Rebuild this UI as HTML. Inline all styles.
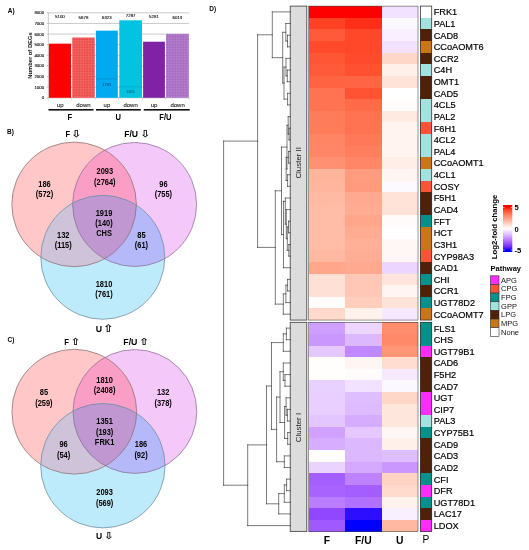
<!DOCTYPE html>
<html lang="en"><head><meta charset="utf-8"><title>Figure</title>
<style>
html,body{margin:0;padding:0;background:#fff;}
body{width:529px;height:550px;overflow:hidden;font-family:'Liberation Sans', sans-serif;}
svg{display:block;}
svg text{font-family:'Liberation Sans', sans-serif;}
.dj{font-family:'DejaVu Sans', sans-serif;font-weight:normal;}
</style></head><body>
<svg width="529" height="550" viewBox="0 0 529 550">
<rect x="0" y="0" width="529" height="550" fill="#ffffff"/>
<defs>
<pattern id="hatR" width="1.6" height="1.6" patternUnits="userSpaceOnUse"><rect width="1.6" height="1.6" fill="#ee4040"/><path d="M0 0.3H1.6M0.3 0V1.6" stroke="#fff" stroke-width="0.4" opacity="0.32"/></pattern>
<pattern id="hatC" width="1.6" height="1.6" patternUnits="userSpaceOnUse"><rect width="1.6" height="1.6" fill="#00c8e4"/><path d="M0 0.3H1.6M0.3 0V1.6" stroke="#0aa0c0" stroke-width="0.4" opacity="0.3"/></pattern>
<pattern id="hatP" width="1.6" height="1.6" patternUnits="userSpaceOnUse"><rect width="1.6" height="1.6" fill="#a262bf"/><path d="M0 0.3H1.6M0.3 0V1.6" stroke="#fff" stroke-width="0.4" opacity="0.3"/></pattern>
<linearGradient id="lg" x1="0" y1="0" x2="0" y2="1">
<stop offset="0.00%" stop-color="#ff0000"/>
<stop offset="2.13%" stop-color="#ff0000"/>
<stop offset="4.26%" stop-color="#ff0000"/>
<stop offset="6.38%" stop-color="#ff1d0b"/>
<stop offset="8.51%" stop-color="#ff341b"/>
<stop offset="10.64%" stop-color="#ff4527"/>
<stop offset="12.77%" stop-color="#ff5333"/>
<stop offset="14.89%" stop-color="#ff5f3e"/>
<stop offset="17.02%" stop-color="#ff6b49"/>
<stop offset="19.15%" stop-color="#ff7654"/>
<stop offset="21.28%" stop-color="#ff805f"/>
<stop offset="23.40%" stop-color="#ff8a6a"/>
<stop offset="25.53%" stop-color="#ff9475"/>
<stop offset="27.66%" stop-color="#ff9d81"/>
<stop offset="29.79%" stop-color="#ffa78c"/>
<stop offset="31.91%" stop-color="#ffb097"/>
<stop offset="34.04%" stop-color="#ffbaa3"/>
<stop offset="36.17%" stop-color="#ffc3af"/>
<stop offset="38.30%" stop-color="#ffccba"/>
<stop offset="40.43%" stop-color="#ffd5c6"/>
<stop offset="42.55%" stop-color="#ffded2"/>
<stop offset="44.68%" stop-color="#ffe7de"/>
<stop offset="46.81%" stop-color="#fff0ea"/>
<stop offset="48.94%" stop-color="#fff9f6"/>
<stop offset="51.06%" stop-color="#fdfbff"/>
<stop offset="53.19%" stop-color="#f8f0ff"/>
<stop offset="55.32%" stop-color="#f3e4ff"/>
<stop offset="57.45%" stop-color="#edd9ff"/>
<stop offset="59.57%" stop-color="#e8cfff"/>
<stop offset="61.70%" stop-color="#e2c3ff"/>
<stop offset="63.83%" stop-color="#dcb7ff"/>
<stop offset="65.96%" stop-color="#d5abff"/>
<stop offset="68.09%" stop-color="#ce9fff"/>
<stop offset="70.21%" stop-color="#c892ff"/>
<stop offset="72.34%" stop-color="#c086ff"/>
<stop offset="74.47%" stop-color="#b97aff"/>
<stop offset="76.60%" stop-color="#b06eff"/>
<stop offset="78.72%" stop-color="#a762ff"/>
<stop offset="80.85%" stop-color="#9e55ff"/>
<stop offset="82.98%" stop-color="#9449ff"/>
<stop offset="85.11%" stop-color="#883dff"/>
<stop offset="87.23%" stop-color="#7c31ff"/>
<stop offset="89.36%" stop-color="#6b26ff"/>
<stop offset="91.49%" stop-color="#561aff"/>
<stop offset="93.62%" stop-color="#2b0dff"/>
<stop offset="95.74%" stop-color="#0000ff"/>
<stop offset="97.87%" stop-color="#0000ff"/>
<stop offset="100.00%" stop-color="#0000ff"/>
</linearGradient>
<clipPath id="bF"><circle cx="74.1" cy="204.4" r="62.3"/></clipPath>
<clipPath id="bFU"><circle cx="134.6" cy="204.5" r="62.0"/></clipPath>
<clipPath id="bU"><circle cx="102.8" cy="257.3" r="62.0"/></clipPath>
<clipPath id="cF"><circle cx="74.3" cy="411.7" r="62.4"/></clipPath>
<clipPath id="cFU"><circle cx="134.9" cy="411.5" r="61.9"/></clipPath>
<clipPath id="cU"><circle cx="102.9" cy="465.7" r="62.2"/></clipPath>
</defs>
<g id="panelA">
<line x1="46.8" y1="97.80" x2="189.2" y2="97.80" stroke="#b4b4b4" stroke-width="0.7"/>
<text x="44.20" y="99.35" font-size="4.4" font-weight="normal" text-anchor="end" fill="#111" stroke="#111" stroke-width="0.12">0</text>
<line x1="46.8" y1="87.18" x2="189.2" y2="87.18" stroke="#b4b4b4" stroke-width="0.7"/>
<text x="44.20" y="88.73" font-size="4.4" font-weight="normal" text-anchor="end" fill="#111" stroke="#111" stroke-width="0.12">1000</text>
<line x1="46.8" y1="76.56" x2="189.2" y2="76.56" stroke="#b4b4b4" stroke-width="0.7"/>
<text x="44.20" y="78.11" font-size="4.4" font-weight="normal" text-anchor="end" fill="#111" stroke="#111" stroke-width="0.12">2000</text>
<line x1="46.8" y1="65.94" x2="189.2" y2="65.94" stroke="#b4b4b4" stroke-width="0.7"/>
<text x="44.20" y="67.49" font-size="4.4" font-weight="normal" text-anchor="end" fill="#111" stroke="#111" stroke-width="0.12">3000</text>
<line x1="46.8" y1="55.32" x2="189.2" y2="55.32" stroke="#b4b4b4" stroke-width="0.7"/>
<text x="44.20" y="56.87" font-size="4.4" font-weight="normal" text-anchor="end" fill="#111" stroke="#111" stroke-width="0.12">4000</text>
<line x1="46.8" y1="44.70" x2="189.2" y2="44.70" stroke="#b4b4b4" stroke-width="0.7"/>
<text x="44.20" y="46.25" font-size="4.4" font-weight="normal" text-anchor="end" fill="#111" stroke="#111" stroke-width="0.12">5000</text>
<line x1="46.8" y1="34.08" x2="189.2" y2="34.08" stroke="#b4b4b4" stroke-width="0.7"/>
<text x="44.20" y="35.63" font-size="4.4" font-weight="normal" text-anchor="end" fill="#111" stroke="#111" stroke-width="0.12">6000</text>
<line x1="46.8" y1="23.46" x2="189.2" y2="23.46" stroke="#b4b4b4" stroke-width="0.7"/>
<text x="44.20" y="25.01" font-size="4.4" font-weight="normal" text-anchor="end" fill="#111" stroke="#111" stroke-width="0.12">7000</text>
<line x1="46.8" y1="12.84" x2="189.2" y2="12.84" stroke="#b4b4b4" stroke-width="0.7"/>
<text x="44.20" y="14.39" font-size="4.4" font-weight="normal" text-anchor="end" fill="#111" stroke="#111" stroke-width="0.12">8000</text>
<line x1="48.3" y1="12.84" x2="48.3" y2="97.8" stroke="#b4b4b4" stroke-width="0.7"/>
<rect x="48.9" y="43.64" width="22.10" height="54.16" fill="#ff0000"/>
<text x="59.95" y="17.50" font-size="4.4" font-weight="normal" text-anchor="middle" fill="#111" stroke="#111" stroke-width="0.12">5100</text>
<rect x="72.2" y="37.50" width="22.60" height="60.30" fill="url(#hatR)"/>
<text x="83.50" y="18.50" font-size="4.4" font-weight="normal" text-anchor="middle" fill="#111" stroke="#111" stroke-width="0.12">5678</text>
<rect x="95.9" y="30.65" width="21.90" height="67.15" fill="#00a9f0"/>
<text x="106.85" y="18.50" font-size="4.4" font-weight="normal" text-anchor="middle" fill="#111" stroke="#111" stroke-width="0.12">6323</text>
<rect x="119.3" y="20.31" width="22.70" height="77.49" fill="url(#hatC)"/>
<text x="130.65" y="17.10" font-size="4.4" font-weight="normal" text-anchor="middle" fill="#111" stroke="#111" stroke-width="0.12">7297</text>
<rect x="143.1" y="41.72" width="21.80" height="56.08" fill="#7f22a6"/>
<text x="154.00" y="18.10" font-size="4.4" font-weight="normal" text-anchor="middle" fill="#111" stroke="#111" stroke-width="0.12">5281</text>
<rect x="166.1" y="33.94" width="22.70" height="63.86" fill="url(#hatP)"/>
<text x="177.45" y="18.70" font-size="4.4" font-weight="normal" text-anchor="middle" fill="#111" stroke="#111" stroke-width="0.12">6013</text>
<line x1="95.9" y1="78.9" x2="117.8" y2="78.9" stroke="#0a86c4" stroke-width="0.5"/>
<text x="106.80" y="85.50" font-size="4.0" font-weight="normal" text-anchor="middle" fill="#0b3d66">1765</text>
<line x1="119.3" y1="86.8" x2="142.0" y2="86.8" stroke="#0a9ab8" stroke-width="0.5"/>
<text x="130.40" y="92.90" font-size="4.0" font-weight="normal" text-anchor="middle" fill="#0b3d66">1105</text>
<line x1="48.3" y1="97.8" x2="48.3" y2="99.39999999999999" stroke="#b4b4b4" stroke-width="0.6"/>
<line x1="71.6" y1="97.8" x2="71.6" y2="99.39999999999999" stroke="#b4b4b4" stroke-width="0.6"/>
<line x1="95.3" y1="97.8" x2="95.3" y2="99.39999999999999" stroke="#b4b4b4" stroke-width="0.6"/>
<line x1="118.5" y1="97.8" x2="118.5" y2="99.39999999999999" stroke="#b4b4b4" stroke-width="0.6"/>
<line x1="142.5" y1="97.8" x2="142.5" y2="99.39999999999999" stroke="#b4b4b4" stroke-width="0.6"/>
<line x1="165.5" y1="97.8" x2="165.5" y2="99.39999999999999" stroke="#b4b4b4" stroke-width="0.6"/>
<line x1="189.2" y1="97.8" x2="189.2" y2="99.39999999999999" stroke="#b4b4b4" stroke-width="0.6"/>
<text transform="translate(32.3,55.5) rotate(-90)" font-size="5.8" font-weight="bold" text-anchor="middle" fill="#111">Number of DEGs</text>
<text x="60.20" y="106.90" font-size="6.0" font-weight="normal" text-anchor="middle" fill="#222" stroke="#222" stroke-width="0.1">up</text>
<text x="83.40" y="106.90" font-size="6.0" font-weight="normal" text-anchor="middle" fill="#222" stroke="#222" stroke-width="0.1">down</text>
<text x="106.90" y="106.90" font-size="6.0" font-weight="normal" text-anchor="middle" fill="#222" stroke="#222" stroke-width="0.1">up</text>
<text x="130.60" y="106.90" font-size="6.0" font-weight="normal" text-anchor="middle" fill="#222" stroke="#222" stroke-width="0.1">down</text>
<text x="154.00" y="106.90" font-size="6.0" font-weight="normal" text-anchor="middle" fill="#222" stroke="#222" stroke-width="0.1">up</text>
<text x="177.60" y="106.90" font-size="6.0" font-weight="normal" text-anchor="middle" fill="#222" stroke="#222" stroke-width="0.1">down</text>
<rect x="48.5" y="109.0" width="45.00" height="1.6" fill="#111"/>
<rect x="96.0" y="109.0" width="44.80" height="1.6" fill="#111"/>
<rect x="143.7" y="109.0" width="46.00" height="1.6" fill="#111"/>
<text transform="translate(69.8,120.0) scale(0.88,1)" font-size="8.6" font-weight="bold" text-anchor="middle" fill="#000">F</text>
<text transform="translate(118.2,120.0) scale(0.88,1)" font-size="8.6" font-weight="bold" text-anchor="middle" fill="#000">U</text>
<text transform="translate(165.4,120.0) scale(0.88,1)" font-size="8.6" font-weight="bold" text-anchor="middle" fill="#000">F/U</text>
</g>
<text transform="translate(7.7,12.7) scale(0.86,1)" font-size="7.6" font-weight="bold" fill="#000">A)</text>
<text transform="translate(7.1,134.0) scale(0.86,1)" font-size="7.6" font-weight="bold" fill="#000">B)</text>
<text transform="translate(7.5,342.0) scale(0.86,1)" font-size="7.6" font-weight="bold" fill="#000">C)</text>
<text transform="translate(209.2,10.9) scale(0.86,1)" font-size="7.6" font-weight="bold" fill="#000">D)</text>
<g id="vennb">
<circle cx="74.1" cy="204.4" r="62.3" fill="#ffc7c7"/>
<circle cx="134.6" cy="204.5" r="62.0" fill="#f4c9fa"/>
<circle cx="102.8" cy="257.3" r="62.0" fill="#bdebfb"/>
<circle cx="74.1" cy="204.4" r="62.3" fill="#fb9ec6" clip-path="url(#bFU)"/>
<circle cx="74.1" cy="204.4" r="62.3" fill="#cfc3d9" clip-path="url(#bU)"/>
<circle cx="134.6" cy="204.5" r="62.0" fill="#b5b8f9" clip-path="url(#bU)"/>
<g clip-path="url(#bU)"><circle cx="74.1" cy="204.4" r="62.3" fill="#c097d1" clip-path="url(#bFU)"/></g>
<circle cx="74.1" cy="204.4" r="62.3" fill="none" stroke="#8e6e72" stroke-width="0.75"/>
<circle cx="134.6" cy="204.5" r="62.0" fill="none" stroke="#8b7096" stroke-width="0.75"/>
<circle cx="102.8" cy="257.3" r="62.0" fill="none" stroke="#708a9c" stroke-width="0.75"/>
</g>
<g id="vennc">
<circle cx="74.3" cy="411.7" r="62.4" fill="#ffc7c7"/>
<circle cx="134.9" cy="411.5" r="61.9" fill="#f4c9fa"/>
<circle cx="102.9" cy="465.7" r="62.2" fill="#bdebfb"/>
<circle cx="74.3" cy="411.7" r="62.4" fill="#fb9ec6" clip-path="url(#cFU)"/>
<circle cx="74.3" cy="411.7" r="62.4" fill="#cfc3d9" clip-path="url(#cU)"/>
<circle cx="134.9" cy="411.5" r="61.9" fill="#b5b8f9" clip-path="url(#cU)"/>
<g clip-path="url(#cU)"><circle cx="74.3" cy="411.7" r="62.4" fill="#c097d1" clip-path="url(#cFU)"/></g>
<circle cx="74.3" cy="411.7" r="62.4" fill="none" stroke="#8e6e72" stroke-width="0.75"/>
<circle cx="134.9" cy="411.5" r="61.9" fill="none" stroke="#8b7096" stroke-width="0.75"/>
<circle cx="102.9" cy="465.7" r="62.2" fill="none" stroke="#708a9c" stroke-width="0.75"/>
</g>
<text transform="translate(44.50,186.90) scale(0.9,1)" font-size="8.3" font-weight="bold" text-anchor="middle" fill="#000">186</text>
<text transform="translate(44.50,197.30) scale(0.9,1)" font-size="8.3" font-weight="bold" text-anchor="middle" fill="#000">(572)</text>
<text transform="translate(104.80,174.40) scale(0.9,1)" font-size="8.3" font-weight="bold" text-anchor="middle" fill="#000">2093</text>
<text transform="translate(104.80,184.80) scale(0.9,1)" font-size="8.3" font-weight="bold" text-anchor="middle" fill="#000">(2764)</text>
<text transform="translate(163.40,186.90) scale(0.9,1)" font-size="8.3" font-weight="bold" text-anchor="middle" fill="#000">96</text>
<text transform="translate(163.40,197.30) scale(0.9,1)" font-size="8.3" font-weight="bold" text-anchor="middle" fill="#000">(755)</text>
<text transform="translate(104.00,215.60) scale(0.9,1)" font-size="8.3" font-weight="bold" text-anchor="middle" fill="#000">1919</text>
<text transform="translate(104.00,225.60) scale(0.9,1)" font-size="8.3" font-weight="bold" text-anchor="middle" fill="#000">(140)</text>
<text transform="translate(104.00,235.60) scale(0.9,1)" font-size="8.3" font-weight="bold" text-anchor="middle" fill="#000">CHS</text>
<text transform="translate(63.20,238.00) scale(0.9,1)" font-size="8.3" font-weight="bold" text-anchor="middle" fill="#000">132</text>
<text transform="translate(63.20,248.10) scale(0.9,1)" font-size="8.3" font-weight="bold" text-anchor="middle" fill="#000">(115)</text>
<text transform="translate(141.40,238.00) scale(0.9,1)" font-size="8.3" font-weight="bold" text-anchor="middle" fill="#000">85</text>
<text transform="translate(141.40,248.10) scale(0.9,1)" font-size="8.3" font-weight="bold" text-anchor="middle" fill="#000">(61)</text>
<text transform="translate(104.00,286.70) scale(0.9,1)" font-size="8.3" font-weight="bold" text-anchor="middle" fill="#000">1810</text>
<text transform="translate(104.00,297.10) scale(0.9,1)" font-size="8.3" font-weight="bold" text-anchor="middle" fill="#000">(761)</text>
<text transform="translate(43.90,395.00) scale(0.9,1)" font-size="8.3" font-weight="bold" text-anchor="middle" fill="#000">85</text>
<text transform="translate(43.90,405.50) scale(0.9,1)" font-size="8.3" font-weight="bold" text-anchor="middle" fill="#000">(259)</text>
<text transform="translate(104.60,382.50) scale(0.9,1)" font-size="8.3" font-weight="bold" text-anchor="middle" fill="#000">1810</text>
<text transform="translate(104.60,392.90) scale(0.9,1)" font-size="8.3" font-weight="bold" text-anchor="middle" fill="#000">(2408)</text>
<text transform="translate(163.10,395.00) scale(0.9,1)" font-size="8.3" font-weight="bold" text-anchor="middle" fill="#000">132</text>
<text transform="translate(163.10,405.50) scale(0.9,1)" font-size="8.3" font-weight="bold" text-anchor="middle" fill="#000">(378)</text>
<text transform="translate(104.60,424.30) scale(0.9,1)" font-size="8.3" font-weight="bold" text-anchor="middle" fill="#000">1351</text>
<text transform="translate(104.60,434.80) scale(0.9,1)" font-size="8.3" font-weight="bold" text-anchor="middle" fill="#000">(193)</text>
<text transform="translate(104.60,445.20) scale(0.9,1)" font-size="8.3" font-weight="bold" text-anchor="middle" fill="#000">FRK1</text>
<text transform="translate(63.60,447.30) scale(0.9,1)" font-size="8.3" font-weight="bold" text-anchor="middle" fill="#000">96</text>
<text transform="translate(63.60,457.80) scale(0.9,1)" font-size="8.3" font-weight="bold" text-anchor="middle" fill="#000">(54)</text>
<text transform="translate(141.00,447.30) scale(0.9,1)" font-size="8.3" font-weight="bold" text-anchor="middle" fill="#000">186</text>
<text transform="translate(141.00,457.80) scale(0.9,1)" font-size="8.3" font-weight="bold" text-anchor="middle" fill="#000">(92)</text>
<text transform="translate(104.60,495.40) scale(0.9,1)" font-size="8.3" font-weight="bold" text-anchor="middle" fill="#000">2093</text>
<text transform="translate(104.60,505.90) scale(0.9,1)" font-size="8.3" font-weight="bold" text-anchor="middle" fill="#000">(569)</text>
<text transform="translate(65.40,136.70) scale(0.86,1)" font-size="8.8" font-weight="bold" fill="#000">F</text>
<text transform="translate(70.89,136.78) scale(1.221,1)" style="font-family:'DejaVu Sans',sans-serif" font-size="9.86" font-weight="bold" fill="#000">&#8681;</text>
<text transform="translate(124.20,136.70) scale(0.98,1)" font-size="8.8" font-weight="bold" fill="#000">F/U</text>
<text transform="translate(139.99,136.78) scale(1.221,1)" style="font-family:'DejaVu Sans',sans-serif" font-size="9.86" font-weight="bold" fill="#000">&#8681;</text>
<text transform="translate(95.80,331.80) scale(0.97,1)" font-size="9.0" font-weight="bold" fill="#000">U</text>
<text transform="translate(103.09,332.21) scale(1.200,1)" style="font-family:'DejaVu Sans',sans-serif" font-size="10.54" font-weight="bold" fill="#000">&#8679;</text>
<text transform="translate(64.20,344.80) scale(0.86,1)" font-size="8.8" font-weight="bold" fill="#000">F</text>
<text transform="translate(70.40,345.29) scale(1.191,1)" style="font-family:'DejaVu Sans',sans-serif" font-size="9.59" font-weight="bold" fill="#000">&#8679;</text>
<text transform="translate(123.30,344.80) scale(1.0,1)" font-size="8.8" font-weight="bold" fill="#000">F/U</text>
<text transform="translate(138.86,345.29) scale(1.276,1)" style="font-family:'DejaVu Sans',sans-serif" font-size="9.59" font-weight="bold" fill="#000">&#8679;</text>
<text transform="translate(96.10,539.30) scale(0.97,1)" font-size="8.8" font-weight="bold" fill="#000">U</text>
<text transform="translate(103.76,539.18) scale(1.212,1)" style="font-family:'DejaVu Sans',sans-serif" font-size="9.59" font-weight="bold" fill="#000">&#8681;</text>
<g id="heat" shape-rendering="crispEdges">
<rect x="308.60" y="6.10" width="36.77" height="11.93" fill="#ff0000"/>
<rect x="345.07" y="6.10" width="36.77" height="11.93" fill="#ff0000"/>
<rect x="381.53" y="6.10" width="36.77" height="11.93" fill="#f2e1ff"/>
<rect x="420.4" y="6.10" width="11.30" height="11.93" fill="#ffffff"/>
<rect x="308.60" y="17.73" width="36.77" height="11.93" fill="#ff4124"/>
<rect x="345.07" y="17.73" width="36.77" height="11.93" fill="#ff2e16"/>
<rect x="381.53" y="17.73" width="36.77" height="11.93" fill="#fcf8ff"/>
<rect x="420.4" y="17.73" width="11.30" height="11.93" fill="#a3e3df"/>
<rect x="308.60" y="29.36" width="36.77" height="11.93" fill="#ff5b3a"/>
<rect x="345.07" y="29.36" width="36.77" height="11.93" fill="#ff4729"/>
<rect x="381.53" y="29.36" width="36.77" height="11.93" fill="#f8f0ff"/>
<rect x="420.4" y="29.36" width="11.30" height="11.93" fill="#4e2108"/>
<rect x="308.60" y="40.98" width="36.77" height="11.93" fill="#ff4a2c"/>
<rect x="345.07" y="40.98" width="36.77" height="11.93" fill="#ff4729"/>
<rect x="381.53" y="40.98" width="36.77" height="11.93" fill="#f2e1ff"/>
<rect x="420.4" y="40.98" width="11.30" height="11.93" fill="#c97618"/>
<rect x="308.60" y="52.61" width="36.77" height="11.93" fill="#ff5636"/>
<rect x="345.07" y="52.61" width="36.77" height="11.93" fill="#ff4a2c"/>
<rect x="381.53" y="52.61" width="36.77" height="11.93" fill="#ffd7c9"/>
<rect x="420.4" y="52.61" width="11.30" height="11.93" fill="#4e2108"/>
<rect x="308.60" y="64.24" width="36.77" height="11.93" fill="#ff5b3a"/>
<rect x="345.07" y="64.24" width="36.77" height="11.93" fill="#ff5031"/>
<rect x="381.53" y="64.24" width="36.77" height="11.93" fill="#fff0ea"/>
<rect x="420.4" y="64.24" width="11.30" height="11.93" fill="#a3e3df"/>
<rect x="308.60" y="75.87" width="36.77" height="11.93" fill="#ff6341"/>
<rect x="345.07" y="75.87" width="36.77" height="11.93" fill="#ff6544"/>
<rect x="381.53" y="75.87" width="36.77" height="11.93" fill="#ffe2d8"/>
<rect x="420.4" y="75.87" width="11.30" height="11.93" fill="#4e2108"/>
<rect x="308.60" y="87.50" width="36.77" height="11.93" fill="#ff7352"/>
<rect x="345.07" y="87.50" width="36.77" height="11.93" fill="#ff5333"/>
<rect x="381.53" y="87.50" width="36.77" height="11.93" fill="#ffffff"/>
<rect x="420.4" y="87.50" width="11.30" height="11.93" fill="#4e2108"/>
<rect x="308.60" y="99.12" width="36.77" height="11.93" fill="#ff7352"/>
<rect x="345.07" y="99.12" width="36.77" height="11.93" fill="#ff6a49"/>
<rect x="381.53" y="99.12" width="36.77" height="11.93" fill="#fffcfb"/>
<rect x="420.4" y="99.12" width="11.30" height="11.93" fill="#a3e3df"/>
<rect x="308.60" y="110.75" width="36.77" height="11.93" fill="#ff7c5b"/>
<rect x="345.07" y="110.75" width="36.77" height="11.93" fill="#ff7352"/>
<rect x="381.53" y="110.75" width="36.77" height="11.93" fill="#ffeae2"/>
<rect x="420.4" y="110.75" width="11.30" height="11.93" fill="#a3e3df"/>
<rect x="308.60" y="122.38" width="36.77" height="11.93" fill="#ff7c5b"/>
<rect x="345.07" y="122.38" width="36.77" height="11.93" fill="#ff7352"/>
<rect x="381.53" y="122.38" width="36.77" height="11.93" fill="#fff4ef"/>
<rect x="420.4" y="122.38" width="11.30" height="11.93" fill="#ff5236"/>
<rect x="308.60" y="134.01" width="36.77" height="11.93" fill="#ff8565"/>
<rect x="345.07" y="134.01" width="36.77" height="11.93" fill="#ff7857"/>
<rect x="381.53" y="134.01" width="36.77" height="11.93" fill="#fff4ef"/>
<rect x="420.4" y="134.01" width="11.30" height="11.93" fill="#a3e3df"/>
<rect x="308.60" y="145.64" width="36.77" height="11.93" fill="#ff8767"/>
<rect x="345.07" y="145.64" width="36.77" height="11.93" fill="#ff7e5e"/>
<rect x="381.53" y="145.64" width="36.77" height="11.93" fill="#fff4ef"/>
<rect x="420.4" y="145.64" width="11.30" height="11.93" fill="#a3e3df"/>
<rect x="308.60" y="157.26" width="36.77" height="11.93" fill="#ff9071"/>
<rect x="345.07" y="157.26" width="36.77" height="11.93" fill="#ff8767"/>
<rect x="381.53" y="157.26" width="36.77" height="11.93" fill="#ffeee8"/>
<rect x="420.4" y="157.26" width="11.30" height="11.93" fill="#c97618"/>
<rect x="308.60" y="168.89" width="36.77" height="11.93" fill="#ffb49c"/>
<rect x="345.07" y="168.89" width="36.77" height="11.93" fill="#ff9c7f"/>
<rect x="381.53" y="168.89" width="36.77" height="11.93" fill="#fff5f2"/>
<rect x="420.4" y="168.89" width="11.30" height="11.93" fill="#a3e3df"/>
<rect x="308.60" y="180.52" width="36.77" height="11.93" fill="#ffb69e"/>
<rect x="345.07" y="180.52" width="36.77" height="11.93" fill="#ff9a7c"/>
<rect x="381.53" y="180.52" width="36.77" height="11.93" fill="#fdfaff"/>
<rect x="420.4" y="180.52" width="11.30" height="11.93" fill="#ff5236"/>
<rect x="308.60" y="192.15" width="36.77" height="11.93" fill="#ffbaa3"/>
<rect x="345.07" y="192.15" width="36.77" height="11.93" fill="#ffaa90"/>
<rect x="381.53" y="192.15" width="36.77" height="11.93" fill="#ffe2d8"/>
<rect x="420.4" y="192.15" width="11.30" height="11.93" fill="#4e2108"/>
<rect x="308.60" y="203.78" width="36.77" height="11.93" fill="#ffbca6"/>
<rect x="345.07" y="203.78" width="36.77" height="11.93" fill="#ffac92"/>
<rect x="381.53" y="203.78" width="36.77" height="11.93" fill="#ffe2d8"/>
<rect x="420.4" y="203.78" width="11.30" height="11.93" fill="#4e2108"/>
<rect x="308.60" y="215.40" width="36.77" height="11.93" fill="#ffbca6"/>
<rect x="345.07" y="215.40" width="36.77" height="11.93" fill="#ffa68b"/>
<rect x="381.53" y="215.40" width="36.77" height="11.93" fill="#fffbfa"/>
<rect x="420.4" y="215.40" width="11.30" height="11.93" fill="#03918c"/>
<rect x="308.60" y="227.03" width="36.77" height="11.93" fill="#ffbca6"/>
<rect x="345.07" y="227.03" width="36.77" height="11.93" fill="#ffac92"/>
<rect x="381.53" y="227.03" width="36.77" height="11.93" fill="#ffffff"/>
<rect x="420.4" y="227.03" width="11.30" height="11.93" fill="#c97618"/>
<rect x="308.60" y="238.66" width="36.77" height="11.93" fill="#ffbca6"/>
<rect x="345.07" y="238.66" width="36.77" height="11.93" fill="#ffb097"/>
<rect x="381.53" y="238.66" width="36.77" height="11.93" fill="#fff7f5"/>
<rect x="420.4" y="238.66" width="11.30" height="11.93" fill="#c97618"/>
<rect x="308.60" y="250.29" width="36.77" height="11.93" fill="#ffb8a1"/>
<rect x="345.07" y="250.29" width="36.77" height="11.93" fill="#ffae95"/>
<rect x="381.53" y="250.29" width="36.77" height="11.93" fill="#fff7f5"/>
<rect x="420.4" y="250.29" width="11.30" height="11.93" fill="#ff5236"/>
<rect x="308.60" y="261.92" width="36.77" height="11.93" fill="#ffa68b"/>
<rect x="345.07" y="261.92" width="36.77" height="11.93" fill="#ffaa90"/>
<rect x="381.53" y="261.92" width="36.77" height="11.93" fill="#ecd6ff"/>
<rect x="420.4" y="261.92" width="11.30" height="11.93" fill="#4e2108"/>
<rect x="308.60" y="273.54" width="36.77" height="11.93" fill="#ffe0d6"/>
<rect x="345.07" y="273.54" width="36.77" height="11.93" fill="#ffc7b5"/>
<rect x="381.53" y="273.54" width="36.77" height="11.93" fill="#ffe4db"/>
<rect x="420.4" y="273.54" width="11.30" height="11.93" fill="#03918c"/>
<rect x="308.60" y="285.17" width="36.77" height="11.93" fill="#ffe0d6"/>
<rect x="345.07" y="285.17" width="36.77" height="11.93" fill="#ffc7b5"/>
<rect x="381.53" y="285.17" width="36.77" height="11.93" fill="#fff5f2"/>
<rect x="420.4" y="285.17" width="11.30" height="11.93" fill="#4e2108"/>
<rect x="308.60" y="296.80" width="36.77" height="11.93" fill="#fffdfc"/>
<rect x="345.07" y="296.80" width="36.77" height="11.93" fill="#ffcdbc"/>
<rect x="381.53" y="296.80" width="36.77" height="11.93" fill="#ffe2d8"/>
<rect x="420.4" y="296.80" width="11.30" height="11.93" fill="#03918c"/>
<rect x="308.60" y="308.43" width="36.77" height="11.93" fill="#ffd9cb"/>
<rect x="345.07" y="308.43" width="36.77" height="11.93" fill="#fff2ed"/>
<rect x="381.53" y="308.43" width="36.77" height="11.93" fill="#f5e8ff"/>
<rect x="420.4" y="308.43" width="11.30" height="11.93" fill="#c97618"/>
<rect x="308.60" y="322.30" width="36.77" height="11.92" fill="#ce9fff"/>
<rect x="345.07" y="322.30" width="36.77" height="11.92" fill="#ecd6ff"/>
<rect x="381.53" y="322.30" width="36.77" height="11.92" fill="#ff8d6e"/>
<rect x="420.4" y="322.30" width="11.30" height="11.92" fill="#03918c"/>
<rect x="308.60" y="333.92" width="36.77" height="11.92" fill="#ca97ff"/>
<rect x="345.07" y="333.92" width="36.77" height="11.92" fill="#dcb8ff"/>
<rect x="381.53" y="333.92" width="36.77" height="11.92" fill="#ff8969"/>
<rect x="420.4" y="333.92" width="11.30" height="11.92" fill="#03918c"/>
<rect x="308.60" y="345.53" width="36.77" height="11.92" fill="#e4c8ff"/>
<rect x="345.07" y="345.53" width="36.77" height="11.92" fill="#c187ff"/>
<rect x="381.53" y="345.53" width="36.77" height="11.92" fill="#ff9678"/>
<rect x="420.4" y="345.53" width="11.30" height="11.92" fill="#ff2bff"/>
<rect x="308.60" y="357.14" width="36.77" height="11.92" fill="#fffefd"/>
<rect x="345.07" y="357.14" width="36.77" height="11.92" fill="#fff5f2"/>
<rect x="381.53" y="357.14" width="36.77" height="11.92" fill="#ffddd0"/>
<rect x="420.4" y="357.14" width="11.30" height="11.92" fill="#4e2108"/>
<rect x="308.60" y="368.76" width="36.77" height="11.92" fill="#fffefd"/>
<rect x="345.07" y="368.76" width="36.77" height="11.92" fill="#fffbfa"/>
<rect x="381.53" y="368.76" width="36.77" height="11.92" fill="#f5e8ff"/>
<rect x="420.4" y="368.76" width="11.30" height="11.92" fill="#4e2108"/>
<rect x="308.60" y="380.38" width="36.77" height="11.92" fill="#e9d1ff"/>
<rect x="345.07" y="380.38" width="36.77" height="11.92" fill="#f2e1ff"/>
<rect x="381.53" y="380.38" width="36.77" height="11.92" fill="#fcf8ff"/>
<rect x="420.4" y="380.38" width="11.30" height="11.92" fill="#4e2108"/>
<rect x="308.60" y="391.99" width="36.77" height="11.92" fill="#e8cfff"/>
<rect x="345.07" y="391.99" width="36.77" height="11.92" fill="#dfbeff"/>
<rect x="381.53" y="391.99" width="36.77" height="11.92" fill="#ffd7c9"/>
<rect x="420.4" y="391.99" width="11.30" height="11.92" fill="#ff2bff"/>
<rect x="308.60" y="403.61" width="36.77" height="11.92" fill="#e8cfff"/>
<rect x="345.07" y="403.61" width="36.77" height="11.92" fill="#debbff"/>
<rect x="381.53" y="403.61" width="36.77" height="11.92" fill="#ffe6dd"/>
<rect x="420.4" y="403.61" width="11.30" height="11.92" fill="#ff2bff"/>
<rect x="308.60" y="415.22" width="36.77" height="11.92" fill="#e3c5ff"/>
<rect x="345.07" y="415.22" width="36.77" height="11.92" fill="#d5acff"/>
<rect x="381.53" y="415.22" width="36.77" height="11.92" fill="#ffe6dd"/>
<rect x="420.4" y="415.22" width="11.30" height="11.92" fill="#a3e3df"/>
<rect x="308.60" y="426.84" width="36.77" height="11.92" fill="#d0a1ff"/>
<rect x="345.07" y="426.84" width="36.77" height="11.92" fill="#e4c8ff"/>
<rect x="381.53" y="426.84" width="36.77" height="11.92" fill="#fff7f5"/>
<rect x="420.4" y="426.84" width="11.30" height="11.92" fill="#03918c"/>
<rect x="308.60" y="438.45" width="36.77" height="11.92" fill="#d7aeff"/>
<rect x="345.07" y="438.45" width="36.77" height="11.92" fill="#dcb8ff"/>
<rect x="381.53" y="438.45" width="36.77" height="11.92" fill="#fff0ea"/>
<rect x="420.4" y="438.45" width="11.30" height="11.92" fill="#4e2108"/>
<rect x="308.60" y="450.06" width="36.77" height="11.92" fill="#fffdfc"/>
<rect x="345.07" y="450.06" width="36.77" height="11.92" fill="#dcb8ff"/>
<rect x="381.53" y="450.06" width="36.77" height="11.92" fill="#dfbeff"/>
<rect x="420.4" y="450.06" width="11.30" height="11.92" fill="#4e2108"/>
<rect x="308.60" y="461.68" width="36.77" height="11.92" fill="#ead4ff"/>
<rect x="345.07" y="461.68" width="36.77" height="11.92" fill="#d4a9ff"/>
<rect x="381.53" y="461.68" width="36.77" height="11.92" fill="#ca97ff"/>
<rect x="420.4" y="461.68" width="11.30" height="11.92" fill="#4e2108"/>
<rect x="308.60" y="473.30" width="36.77" height="11.92" fill="#a45eff"/>
<rect x="345.07" y="473.30" width="36.77" height="11.92" fill="#be82ff"/>
<rect x="381.53" y="473.30" width="36.77" height="11.92" fill="#ffd3c4"/>
<rect x="420.4" y="473.30" width="11.30" height="11.92" fill="#03918c"/>
<rect x="308.60" y="484.91" width="36.77" height="11.92" fill="#a863ff"/>
<rect x="345.07" y="484.91" width="36.77" height="11.92" fill="#a45eff"/>
<rect x="381.53" y="484.91" width="36.77" height="11.92" fill="#ffdbce"/>
<rect x="420.4" y="484.91" width="11.30" height="11.92" fill="#ff2bff"/>
<rect x="308.60" y="496.52" width="36.77" height="11.92" fill="#ba7dff"/>
<rect x="345.07" y="496.52" width="36.77" height="11.92" fill="#b170ff"/>
<rect x="381.53" y="496.52" width="36.77" height="11.92" fill="#fff2ed"/>
<rect x="420.4" y="496.52" width="11.30" height="11.92" fill="#03918c"/>
<rect x="308.60" y="508.14" width="36.77" height="11.92" fill="#9146ff"/>
<rect x="345.07" y="508.14" width="36.77" height="11.92" fill="#2e0eff"/>
<rect x="381.53" y="508.14" width="36.77" height="11.92" fill="#f8f0ff"/>
<rect x="420.4" y="508.14" width="11.30" height="11.92" fill="#4e2108"/>
<rect x="308.60" y="519.75" width="36.77" height="11.92" fill="#a058ff"/>
<rect x="345.07" y="519.75" width="36.77" height="11.92" fill="#0000ff"/>
<rect x="381.53" y="519.75" width="36.77" height="11.92" fill="#ffb8a1"/>
<rect x="420.4" y="519.75" width="11.30" height="11.92" fill="#ff2bff"/>
</g>
<rect x="308.6" y="6.1" width="109.40" height="313.96" fill="none" stroke="#444" stroke-width="0.55"/>
<rect x="420.4" y="6.1" width="11.30" height="313.96" fill="none" stroke="#3a3a3a" stroke-width="0.8"/>
<rect x="290.2" y="6.1" width="16.60" height="313.96" fill="#dcdcdc" stroke="#3a3a3a" stroke-width="0.8"/>
<rect x="308.6" y="322.3" width="109.40" height="209.07" fill="none" stroke="#444" stroke-width="0.55"/>
<rect x="420.4" y="322.3" width="11.30" height="209.07" fill="none" stroke="#3a3a3a" stroke-width="0.8"/>
<rect x="290.2" y="322.3" width="16.60" height="209.07" fill="#dcdcdc" stroke="#3a3a3a" stroke-width="0.8"/>
<text x="433.70" y="15.31" font-size="9.2" font-weight="normal" text-anchor="start" fill="#000" stroke="#000" stroke-width="0.18">FRK1</text>
<text x="433.70" y="26.94" font-size="9.2" font-weight="normal" text-anchor="start" fill="#000" stroke="#000" stroke-width="0.18">PAL1</text>
<text x="433.70" y="38.57" font-size="9.2" font-weight="normal" text-anchor="start" fill="#000" stroke="#000" stroke-width="0.18">CAD8</text>
<text x="433.70" y="50.20" font-size="9.2" font-weight="normal" text-anchor="start" fill="#000" stroke="#000" stroke-width="0.18">CCoAOMT6</text>
<text x="433.70" y="61.83" font-size="9.2" font-weight="normal" text-anchor="start" fill="#000" stroke="#000" stroke-width="0.18">CCR2</text>
<text x="433.70" y="73.45" font-size="9.2" font-weight="normal" text-anchor="start" fill="#000" stroke="#000" stroke-width="0.18">C4H</text>
<text x="433.70" y="85.08" font-size="9.2" font-weight="normal" text-anchor="start" fill="#000" stroke="#000" stroke-width="0.18">OMT1</text>
<text x="433.70" y="96.71" font-size="9.2" font-weight="normal" text-anchor="start" fill="#000" stroke="#000" stroke-width="0.18">CAD5</text>
<text x="433.70" y="108.34" font-size="9.2" font-weight="normal" text-anchor="start" fill="#000" stroke="#000" stroke-width="0.18">4CL5</text>
<text x="433.70" y="119.97" font-size="9.2" font-weight="normal" text-anchor="start" fill="#000" stroke="#000" stroke-width="0.18">PAL2</text>
<text x="433.70" y="131.59" font-size="9.2" font-weight="normal" text-anchor="start" fill="#000" stroke="#000" stroke-width="0.18">F6H1</text>
<text x="433.70" y="143.22" font-size="9.2" font-weight="normal" text-anchor="start" fill="#000" stroke="#000" stroke-width="0.18">4CL2</text>
<text x="433.70" y="154.85" font-size="9.2" font-weight="normal" text-anchor="start" fill="#000" stroke="#000" stroke-width="0.18">PAL4</text>
<text x="433.70" y="166.48" font-size="9.2" font-weight="normal" text-anchor="start" fill="#000" stroke="#000" stroke-width="0.18">CCoAOMT1</text>
<text x="433.70" y="178.11" font-size="9.2" font-weight="normal" text-anchor="start" fill="#000" stroke="#000" stroke-width="0.18">4CL1</text>
<text x="433.70" y="189.73" font-size="9.2" font-weight="normal" text-anchor="start" fill="#000" stroke="#000" stroke-width="0.18">COSY</text>
<text x="433.70" y="201.36" font-size="9.2" font-weight="normal" text-anchor="start" fill="#000" stroke="#000" stroke-width="0.18">F5H1</text>
<text x="433.70" y="212.99" font-size="9.2" font-weight="normal" text-anchor="start" fill="#000" stroke="#000" stroke-width="0.18">CAD4</text>
<text x="433.70" y="224.62" font-size="9.2" font-weight="normal" text-anchor="start" fill="#000" stroke="#000" stroke-width="0.18">FFT</text>
<text x="433.70" y="236.25" font-size="9.2" font-weight="normal" text-anchor="start" fill="#000" stroke="#000" stroke-width="0.18">HCT</text>
<text x="433.70" y="247.87" font-size="9.2" font-weight="normal" text-anchor="start" fill="#000" stroke="#000" stroke-width="0.18">C3H1</text>
<text x="433.70" y="259.50" font-size="9.2" font-weight="normal" text-anchor="start" fill="#000" stroke="#000" stroke-width="0.18">CYP98A3</text>
<text x="433.70" y="271.13" font-size="9.2" font-weight="normal" text-anchor="start" fill="#000" stroke="#000" stroke-width="0.18">CAD1</text>
<text x="433.70" y="282.76" font-size="9.2" font-weight="normal" text-anchor="start" fill="#000" stroke="#000" stroke-width="0.18">CHI</text>
<text x="433.70" y="294.39" font-size="9.2" font-weight="normal" text-anchor="start" fill="#000" stroke="#000" stroke-width="0.18">CCR1</text>
<text x="433.70" y="306.01" font-size="9.2" font-weight="normal" text-anchor="start" fill="#000" stroke="#000" stroke-width="0.18">UGT78D2</text>
<text x="433.70" y="317.64" font-size="9.2" font-weight="normal" text-anchor="start" fill="#000" stroke="#000" stroke-width="0.18">CCoAOMT7</text>
<text x="433.70" y="331.51" font-size="9.2" font-weight="normal" text-anchor="start" fill="#000" stroke="#000" stroke-width="0.18">FLS1</text>
<text x="433.70" y="343.12" font-size="9.2" font-weight="normal" text-anchor="start" fill="#000" stroke="#000" stroke-width="0.18">CHS</text>
<text x="433.70" y="354.74" font-size="9.2" font-weight="normal" text-anchor="start" fill="#000" stroke="#000" stroke-width="0.18">UGT79B1</text>
<text x="433.70" y="366.35" font-size="9.2" font-weight="normal" text-anchor="start" fill="#000" stroke="#000" stroke-width="0.18">CAD6</text>
<text x="433.70" y="377.97" font-size="9.2" font-weight="normal" text-anchor="start" fill="#000" stroke="#000" stroke-width="0.18">F5H2</text>
<text x="433.70" y="389.58" font-size="9.2" font-weight="normal" text-anchor="start" fill="#000" stroke="#000" stroke-width="0.18">CAD7</text>
<text x="433.70" y="401.20" font-size="9.2" font-weight="normal" text-anchor="start" fill="#000" stroke="#000" stroke-width="0.18">UGT</text>
<text x="433.70" y="412.81" font-size="9.2" font-weight="normal" text-anchor="start" fill="#000" stroke="#000" stroke-width="0.18">CIP7</text>
<text x="433.70" y="424.43" font-size="9.2" font-weight="normal" text-anchor="start" fill="#000" stroke="#000" stroke-width="0.18">PAL3</text>
<text x="433.70" y="436.04" font-size="9.2" font-weight="normal" text-anchor="start" fill="#000" stroke="#000" stroke-width="0.18">CYP75B1</text>
<text x="433.70" y="447.66" font-size="9.2" font-weight="normal" text-anchor="start" fill="#000" stroke="#000" stroke-width="0.18">CAD9</text>
<text x="433.70" y="459.27" font-size="9.2" font-weight="normal" text-anchor="start" fill="#000" stroke="#000" stroke-width="0.18">CAD3</text>
<text x="433.70" y="470.89" font-size="9.2" font-weight="normal" text-anchor="start" fill="#000" stroke="#000" stroke-width="0.18">CAD2</text>
<text x="433.70" y="482.50" font-size="9.2" font-weight="normal" text-anchor="start" fill="#000" stroke="#000" stroke-width="0.18">CFI</text>
<text x="433.70" y="494.12" font-size="9.2" font-weight="normal" text-anchor="start" fill="#000" stroke="#000" stroke-width="0.18">DFR</text>
<text x="433.70" y="505.73" font-size="9.2" font-weight="normal" text-anchor="start" fill="#000" stroke="#000" stroke-width="0.18">UGT78D1</text>
<text x="433.70" y="517.35" font-size="9.2" font-weight="normal" text-anchor="start" fill="#000" stroke="#000" stroke-width="0.18">LAC17</text>
<text x="433.70" y="528.96" font-size="9.2" font-weight="normal" text-anchor="start" fill="#000" stroke="#000" stroke-width="0.18">LDOX</text>
<text transform="translate(301.0,162.8) rotate(-90)" font-size="7.9" text-anchor="middle" fill="#1a1a1a">Cluster II</text>
<text transform="translate(301.0,427.6) rotate(-90)" font-size="7.9" text-anchor="middle" fill="#1a1a1a">Cluster I</text>
<text transform="translate(326.83,543.7) scale(0.95,1)" font-size="10.9" font-weight="bold" text-anchor="middle" fill="#000">F</text>
<text transform="translate(363.30,543.7) scale(0.95,1)" font-size="10.9" font-weight="bold" text-anchor="middle" fill="#000">F/U</text>
<text transform="translate(399.77,543.7) scale(0.95,1)" font-size="10.9" font-weight="bold" text-anchor="middle" fill="#000">U</text>
<text x="425.85" y="543.30" font-size="10.2" font-weight="normal" text-anchor="middle" fill="#000">P</text>
<path d="M287.5 35.2L290.2 35.2M287.5 46.8L290.2 46.8M287.5 35.2L287.5 46.8M285.8 23.5L290.2 23.5M285.8 41.0L287.5 41.0M285.8 23.5L285.8 41.0M287.3 70.1L290.2 70.1M287.3 81.7L290.2 81.7M287.3 70.1L287.3 81.7M286.0 58.4L290.2 58.4M286.0 75.9L287.3 75.9M286.0 58.4L286.0 75.9M287.6 93.3L290.2 93.3M287.6 104.9L290.2 104.9M287.6 93.3L287.6 104.9M284.0 67.1L286.0 67.1M284.0 99.1L287.6 99.1M284.0 67.1L284.0 99.1M282.7 32.3L285.8 32.3M282.7 83.1L284.0 83.1M282.7 32.3L282.7 83.1M272.3 11.9L290.2 11.9M272.3 57.7L282.7 57.7M272.3 11.9L272.3 57.7M289.0 128.2L290.2 128.2M289.0 139.8L290.2 139.8M289.0 128.2L289.0 139.8M288.2 116.6L290.2 116.6M288.2 134.0L289.0 134.0M288.2 116.6L288.2 134.0M288.6 151.4L290.2 151.4M288.6 163.1L290.2 163.1M288.6 151.4L288.6 163.1M287.6 174.7L290.2 174.7M287.6 186.3L290.2 186.3M287.6 174.7L287.6 186.3M286.2 157.3L288.6 157.3M286.2 180.5L287.6 180.5M286.2 157.3L286.2 180.5M287.0 125.3L288.2 125.3M287.0 168.9L286.2 168.9M287.0 125.3L287.0 168.9M288.5 221.2L290.2 221.2M288.5 232.8L290.2 232.8M288.5 221.2L288.5 232.8M288.8 244.5L290.2 244.5M288.8 256.1L290.2 256.1M288.8 244.5L288.8 256.1M287.3 227.0L288.5 227.0M287.3 250.3L288.8 250.3M287.3 227.0L287.3 250.3M286.3 209.6L290.2 209.6M286.3 238.7L287.3 238.7M286.3 209.6L286.3 238.7M285.3 198.0L290.2 198.0M285.3 224.1L286.3 224.1M285.3 198.0L285.3 224.1M283.5 201.4L285.3 201.4M283.5 267.7L290.2 267.7M283.5 201.4L283.5 267.7M281.5 147.1L287.0 147.1M281.5 234.6L283.5 234.6M281.5 147.1L281.5 234.6M287.6 279.4L290.2 279.4M287.6 291.0L290.2 291.0M287.6 279.4L287.6 291.0M285.9 285.2L287.6 285.2M285.9 302.6L290.2 302.6M285.9 285.2L285.9 302.6M283.3 293.9L285.9 293.9M283.3 314.2L290.2 314.2M283.3 293.9L283.3 314.2M275.3 190.8L281.5 190.8M275.3 304.1L283.3 304.1M275.3 190.8L275.3 304.1M257.6 34.8L272.3 34.8M257.6 247.4L275.3 247.4M257.6 34.8L257.6 247.4M286.4 328.1L290.2 328.1M286.4 339.7L290.2 339.7M286.4 328.1L286.4 339.7M283.3 333.9L286.4 333.9M283.3 351.3L290.2 351.3M283.3 333.9L283.3 351.3M285.0 374.6L290.2 374.6M285.0 386.2L290.2 386.2M285.0 374.6L285.0 386.2M283.3 363.0L290.2 363.0M283.3 380.4L285.0 380.4M283.3 363.0L283.3 380.4M287.4 409.4L290.2 409.4M287.4 421.0L290.2 421.0M287.4 409.4L287.4 421.0M286.1 397.8L290.2 397.8M286.1 415.2L287.4 415.2M286.1 397.8L286.1 415.2M287.7 432.6L290.2 432.6M287.7 444.3L290.2 444.3M287.7 432.6L287.7 444.3M284.6 406.5L286.1 406.5M284.6 438.5L287.7 438.5M284.6 406.5L284.6 438.5M280.0 371.7L283.3 371.7M280.0 422.5L284.6 422.5M280.0 371.7L280.0 422.5M284.3 455.9L290.2 455.9M284.3 467.5L290.2 467.5M284.3 455.9L284.3 467.5M276.6 397.1L280.0 397.1M276.6 461.7L284.3 461.7M276.6 397.1L276.6 461.7M271.5 342.6L283.3 342.6M271.5 429.4L276.6 429.4M271.5 342.6L271.5 429.4M286.6 479.1L290.2 479.1M286.6 490.7L290.2 490.7M286.6 479.1L286.6 490.7M284.3 484.9L286.6 484.9M284.3 502.3L290.2 502.3M284.3 484.9L284.3 502.3M278.7 493.6L284.3 493.6M278.7 513.9L290.2 513.9M278.7 493.6L278.7 513.9M266.5 386.0L271.5 386.0M266.5 503.8L278.7 503.8M266.5 386.0L266.5 503.8M247.7 444.9L266.5 444.9M247.7 525.6L290.2 525.6M247.7 444.9L247.7 525.6M223.6 141.1L257.6 141.1M223.6 485.2L247.7 485.2M223.6 141.1L223.6 485.2" fill="none" stroke="#222" stroke-width="0.6" stroke-linecap="square"/>
<text transform="translate(497.0,227.0) rotate(-90)" font-size="7.75" font-weight="bold" text-anchor="middle" fill="#000">Log2-fold change</text>
<rect x="503.0" y="205.0" width="9.3" height="47.0" fill="url(#lg)"/>
<path d="M503 207.4h1.6M510.7 207.4h1.6M503 250h1.6M510.7 250h1.6" stroke="#fff" stroke-width="0.6"/>
<text x="514.40" y="210.40" font-size="7.6" font-weight="bold" text-anchor="start" fill="#000">5</text>
<text x="514.40" y="231.60" font-size="7.6" font-weight="bold" text-anchor="start" fill="#000">0</text>
<text x="514.40" y="253.00" font-size="7.6" font-weight="bold" text-anchor="start" fill="#000">-5</text>
<text x="490.60" y="270.80" font-size="7.5" font-weight="bold" text-anchor="start" fill="#000">Pathway</text>
<rect x="490.4" y="275.80" width="8.6" height="8.65" fill="#ff2bff" stroke="#333" stroke-width="0.6"/>
<text x="501.10" y="282.80" font-size="7.5" font-weight="normal" text-anchor="start" fill="#111">APG</text>
<rect x="490.4" y="284.45" width="8.6" height="8.65" fill="#ff5236" stroke="#333" stroke-width="0.6"/>
<text x="501.10" y="291.45" font-size="7.5" font-weight="normal" text-anchor="start" fill="#111">CPG</text>
<rect x="490.4" y="293.10" width="8.6" height="8.65" fill="#03918c" stroke="#333" stroke-width="0.6"/>
<text x="501.10" y="300.10" font-size="7.5" font-weight="normal" text-anchor="start" fill="#111">FPG</text>
<rect x="490.4" y="301.75" width="8.6" height="8.65" fill="#a3e3df" stroke="#333" stroke-width="0.6"/>
<text x="501.10" y="308.75" font-size="7.5" font-weight="normal" text-anchor="start" fill="#111">GPP</text>
<rect x="490.4" y="310.40" width="8.6" height="8.65" fill="#4e2108" stroke="#333" stroke-width="0.6"/>
<text x="501.10" y="317.40" font-size="7.5" font-weight="normal" text-anchor="start" fill="#111">LPG</text>
<rect x="490.4" y="319.05" width="8.6" height="8.65" fill="#c97618" stroke="#333" stroke-width="0.6"/>
<text x="501.10" y="326.05" font-size="7.5" font-weight="normal" text-anchor="start" fill="#111">MPG</text>
<rect x="490.4" y="327.70" width="8.6" height="8.65" fill="#ffffff" stroke="#333" stroke-width="0.6"/>
<text x="501.10" y="334.70" font-size="7.5" font-weight="normal" text-anchor="start" fill="#111">None</text>
</svg>
</body></html>
